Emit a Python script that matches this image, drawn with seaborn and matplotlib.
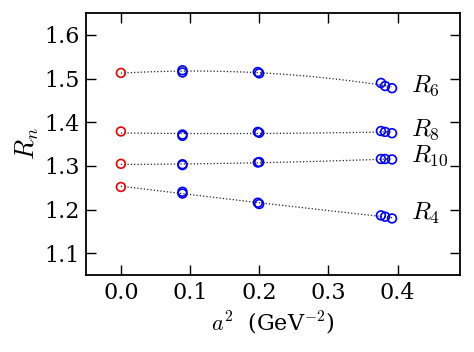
import numpy as np
import pandas as pd
import matplotlib
matplotlib.use("Agg")
import matplotlib.pyplot as plt
import seaborn as sns

# lattice spacing a^2 (GeV^-2)
a2_cont = [0.0]
a2_latt = [0.089, 0.089, 0.198, 0.200, 0.376, 0.382, 0.392]

# ratios: first value is the continuum (red), rest are lattice points (blue)
R6 = [1.513, 1.514, 1.519, 1.515, 1.512, 1.490, 1.483, 1.478]
R8 = [1.379, 1.369, 1.372, 1.378, 1.376, 1.380, 1.378, 1.375]
R10 = [1.305, 1.302, 1.304, 1.308, 1.309, 1.316, 1.316, 1.315]
R4 = [1.252, 1.241, 1.237, 1.216, 1.213, 1.187, 1.184, 1.180]

names = ["$R_6$", "$R_8$", "$R_{10}$", "$R_4$"]
series = [R6, R8, R10, R4]
label_y = [1.484, 1.382, 1.324, 1.191]

sns.set_style("ticks", {"axes.edgecolor": "black", "text.color": "black",
                        "xtick.color": "black", "ytick.color": "black",
                        "axes.labelcolor": "black"})
plt.rcParams["font.family"] = ["DejaVu Serif"]
plt.rcParams["mathtext.fontset"] = "cm"
plt.rcParams["font.size"] = 15

rows = []
for name, vals in zip(names, series):
    xs = a2_cont + a2_latt
    for i, (x, y) in enumerate(zip(xs, vals)):
        rows.append({"a2": x, "R": y, "ratio": name, "kind": "cont" if i == 0 else "latt"})
df = pd.DataFrame(rows)

fig, ax = plt.subplots(figsize=(4.74, 3.52), dpi=100)

# quadratic fit lines
for name in names:
    d = df[df.ratio == name]
    c = np.polyfit(d.a2, d.R, 2)
    xf = np.linspace(0.0, 0.392, 100)
    sns.lineplot(x=xf, y=np.polyval(c, xf), ax=ax, color="#222222", lw=0.9,
                 linestyle=":", legend=False)

for kind, col in [("latt", "#0000ff"), ("cont", "#ee0000")]:
    d = df[df.kind == kind]
    ax.scatter(d.a2, d.R, s=40, facecolors="none", edgecolors=col, linewidths=1.2, zorder=3)

for name, y in zip(names, label_y):
    ax.text(0.42, y, name, fontsize=18, va="center", ha="left")

ax.set_xlim(-0.05, 0.49)
ax.set_ylim(1.05, 1.65)
ax.set_xticks([0.0, 0.1, 0.2, 0.3, 0.4])
ax.set_yticks([1.1, 1.2, 1.3, 1.4, 1.5, 1.6])
ax.tick_params(direction="in", top=True, right=True, length=7, width=1, labelsize=16, pad=5)
for s in ax.spines.values():
    s.set_linewidth(1.3)
ax.set_xlabel(r"$a^2$  (GeV$^{-2}$)", fontsize=16, labelpad=4)
ax.set_ylabel(r"$R_n$", fontsize=19, labelpad=2)

fig.subplots_adjust(left=0.182, right=0.97, top=0.963, bottom=0.218)
fig.savefig("out.png", dpi=100)
